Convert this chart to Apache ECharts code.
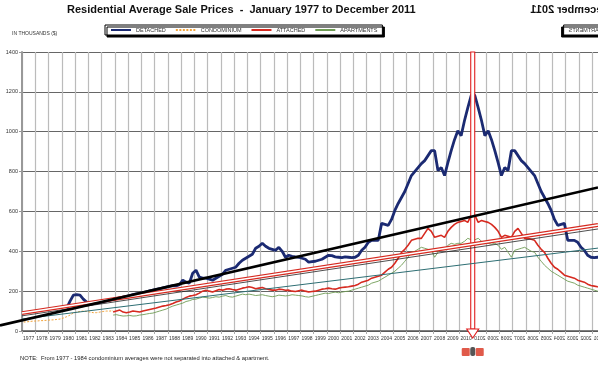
<!DOCTYPE html>
<html>
<head>
<meta charset="utf-8">
<script src="https://cdn.jsdelivr.net/npm/echarts/dist/echarts.min.js"></script>
<style>
body{margin:0;background:#fff}
.layer{position:absolute;left:0;top:0;width:598px;height:375px}
</style>
</head>
<body>
<div style="position:relative;width:598px;height:375px">
  <div id="main" class="layer"></div>
  <div id="clip" class="layer" style="clip-path:inset(0 0 0 473px)">
    <div id="mirror" class="layer" style="transform:scaleX(-1);transform-origin:473px 0"></div>
  </div>
  <div id="overlay" class="layer"></div>
</div>
<script>
// year categories on the x axis
var years = ['1977','1978','1979','1980','1981','1982','1983','1984','1985','1986','1987','1988',
  '1989','1990','1991','1992','1993','1994','1995','1996','1997','1998','1999','2000','2001',
  '2002','2003','2004','2005','2006','2007','2008','2009','2010','2011'];

// quarterly averages, in thousands of dollars (first value = first quarter shown)
var detachedStart = 1980.375;
var detached = [115,150,180,
  182,180,160,145, 134,137,140,143, 147,151,155,159, 163,166,170,174, 178,182,186,189,
  193,197,201,205, 209,212,216,220, 224,228,226,232, 255,245,240,290, 305,270,265,265,
  260,255,265,275, 285,305,310,315, 320,340,355,365, 375,385,415,425, 440,425,415,410,
  405,420,400,370, 380,375,372,370, 365,360,345,348, 350,355,360,370, 380,378,372,370,
  368,372,370,368, 370,380,405,420, 445,455,455,455, 540,535,530,560, 605,640,670,700,
  740,780,800,820, 840,855,880,905, 905,805,820,780, 845,905,960,1005, 980,1055,1120,1180,
  1205];

var condoStart = 1977.125;
var condominium = [45,46,48,50, 50,52,52,54, 55,56,58,60, 65,72,80,90, 95,98,100,98,
  95,92,92,95, 98,100,100,102];

var attachedStart = 1983.875;
var attached = [95,
  100,105,95,92, 95,100,98,95, 100,104,108,112, 115,120,125,128, 132,138,145,150,
  160,168,175,178, 182,190,200,205, 200,196,202,208, 205,210,212,208, 205,210,215,218,
  222,218,212,215, 218,212,208,205, 205,210,208,204, 205,200,198,202, 205,200,196,198,
  200,205,210,212, 215,212,210,215, 218,220,222,225, 228,235,245,250, 255,265,270,275,
  280,295,310,320, 340,365,395,410, 430,455,460,465, 465,490,515,500, 470,475,480,470,
  500,520,535,545, 550,555,545,580, 590];

var apartmentsStart = 1983.875;
var apartments = [80,
  82,78,75,76, 78,75,76,80, 82,85,88,90, 95,100,105,110, 118,125,130,135,
  140,148,152,158, 160,165,170,168, 165,168,172,170, 175,178,172,170, 175,180,185,182,
  185,182,178,180, 182,178,175,172, 175,180,178,176, 178,182,180,178, 176,172,170,174,
  178,182,186,190, 188,192,195,192, 195,198,200,205, 210,215,220,225, 230,240,245,250,
  260,270,280,290, 300,315,330,350, 370,395,400,410, 420,415,410,405, 370,395,420,410,
  430,440,435,440, 440,450,465,458, 455];

// straight trend lines drawn across the whole picture [year, value]
var blackTrend = [[1975.34, 28], [2020.45, 720]];
var redTrend = [[1977.0, 90], [2020.45, 532]];
var darkTrend = [[1977.0, 76], [2020.45, 512]];
var tealTrend = [[1977.0, 60], [2020.45, 416]];
var foldYear = 2011;

// end-of-period labels [year, value, text]
var endLabels = [[2011, 1310, '$1,064,280.18'], [2011, 690, '$511,118.00'], [2011, 365, '$443,081.00']];

var FONT = 'Liberation Sans, Arial, sans-serif';

function quarterly(start, vals) {
  return vals.map(function (v, i) { return [start + i * 0.25, v]; });
}

function endMark(i) {
  var l = endLabels[i];
  return {
    symbol: 'none',
    data: [{coord: [l[0], l[1]], symbolSize: 0, value: l[2],
      label: {show: true, formatter: l[2], position: [-21, 0], align: 'left', verticalAlign: 'middle',
        fontSize: 5, color: '#333', fontFamily: FONT}}]
  };
}

function baseOption() {
  return {
    animation: false,
    backgroundColor: '#fff',
    textStyle: {fontFamily: FONT},
    title: {
      text: 'Residential Average Sale Prices  -  January 1977 to December 2011',
      left: 67, top: 4, padding: 0,
      textStyle: {fontSize: 11, fontWeight: 'bold', color: '#111', fontFamily: FONT}
    },
    legend: {
      left: 105, top: 25, padding: [2, 5, 2, 5], itemGap: 9, itemWidth: 20, itemHeight: 5,
      borderColor: '#000', borderWidth: 1, backgroundColor: '#fff',
      shadowColor: '#000', shadowOffsetX: 2, shadowOffsetY: 2, shadowBlur: 0,
      itemStyle: {opacity: 0},
      textStyle: {fontSize: 5.5, color: '#333'},
      data: ['DETACHED', 'CONDOMINIUM', 'ATTACHED', 'APARTMENTS']
    },
    grid: {left: 22, top: 52, width: 464, height: 279, outerBoundsMode: 'none'},
    xAxis: [{
      type: 'category', data: years, boundaryGap: true,
      axisLine: {lineStyle: {color: '#555', width: 1.5}},
      axisTick: {show: true, length: 3, lineStyle: {color: '#aaa'}},
      axisLabel: {interval: 0, fontSize: 5, color: '#333', margin: 5},
      splitLine: {show: true, lineStyle: {color: '#bbb', width: 1.2}}
    }, {
      type: 'value', min: 1977, max: 2012, show: false
    }],
    yAxis: {
      type: 'value', min: 0, max: 1400, interval: 200,
      axisLine: {show: true, lineStyle: {color: '#999', width: 2}},
      axisTick: {show: true, length: 3, lineStyle: {color: '#999'}},
      axisLabel: {fontSize: 5.5, color: '#333', margin: 4, formatter: function (v) { return String(v); }},
      splitLine: {show: true, lineStyle: {color: '#666', width: 1.2}}
    },
    graphic: [
      {type: 'text', left: 12, top: 31, style: {text: 'IN THOUSANDS ($)', fill: '#333', font: '5px ' + FONT}},
      {type: 'text', left: 20, top: 355, style: {text: 'NOTE:  From 1977 - 1984 condominium averages were not separated into attached & apartment.', fill: '#222', font: '5.8px ' + FONT}}
    ],
    series: [
      {name: 'DETACHED', type: 'line', xAxisIndex: 1, showSymbol: false, symbol: 'none',
        color: '#1b2a72', lineStyle: {width: 2.8, color: '#1b2a72'},
        data: quarterly(detachedStart, detached), markPoint: endMark(0)},
      {name: 'CONDOMINIUM', type: 'line', xAxisIndex: 1, showSymbol: false, symbol: 'none',
        color: '#f2a33a', lineStyle: {width: 1, color: '#f2a33a', type: [2, 1.5]},
        data: quarterly(condoStart, condominium)},
      {name: 'ATTACHED', type: 'line', xAxisIndex: 1, showSymbol: false, symbol: 'none',
        color: '#d62a20', lineStyle: {width: 1.6, color: '#d62a20'},
        data: quarterly(attachedStart, attached), markPoint: endMark(1)},
      {name: 'APARTMENTS', type: 'line', xAxisIndex: 1, showSymbol: false, symbol: 'none',
        color: '#6f9c55', lineStyle: {width: 0.9, color: '#6f9c55'},
        data: quarterly(apartmentsStart, apartments), markPoint: endMark(2)}
    ]
  };
}

function trend(data, color, width) {
  return {type: 'line', data: data, clip: false, symbol: 'none', showSymbol: false,
    lineStyle: {color: color, width: width}, silent: true};
}

var main = echarts.init(document.getElementById('main'));
main.setOption(baseOption());
var mirror = echarts.init(document.getElementById('mirror'));
mirror.setOption(baseOption());

// overlay spans the whole picture: same year/value scale as the plot, wider extent
var overlay = echarts.init(document.getElementById('overlay'));
overlay.setOption({
  animation: false,
  grid: {left: 0, top: 52, width: 598, height: 279, outerBoundsMode: 'none'},
  xAxis: {type: 'value', min: 1975.34, max: 2020.45, show: false},
  yAxis: {type: 'value', min: 0, max: 1400, show: false},
  series: [
    trend(tealTrend, '#2d6e73', 1),
    trend(darkTrend, '#222', 0.8),
    trend(redTrend, '#d62a20', 3.8),
    trend(redTrend, '#fff', 1.4),
    trend(blackTrend, '#000', 2.6)
  ]
});

// red fold marker with arrow head and the little badge below it
var pTop = overlay.convertToPixel({xAxisIndex: 0, yAxisIndex: 0}, [foldYear, 1400]);
var pBot = overlay.convertToPixel({xAxisIndex: 0, yAxisIndex: 0}, [foldYear, 0]);
var fx = pTop[0];
overlay.setOption({
  graphic: [
    {type: 'rect', shape: {x: fx - 2, y: pTop[1], width: 4, height: pBot[1] - pTop[1] - 2},
      style: {fill: '#fff', stroke: '#e02020', lineWidth: 1.1}},
    {type: 'polygon', shape: {points: [[fx - 6, pBot[1] - 2], [fx + 6, pBot[1] - 2], [fx, pBot[1] + 7]]},
      style: {fill: '#fff', stroke: '#e02020', lineWidth: 1.1}},
    {type: 'rect', shape: {x: fx - 11, y: 348, width: 8, height: 8, r: 1}, style: {fill: '#e05a4a'}},
    {type: 'rect', shape: {x: fx - 2.5, y: 347, width: 5, height: 9, r: 2}, style: {fill: '#555'}},
    {type: 'rect', shape: {x: fx + 3, y: 348, width: 8, height: 8, r: 1}, style: {fill: '#e05a4a'}}
  ]
});
</script>
</body>
</html>
